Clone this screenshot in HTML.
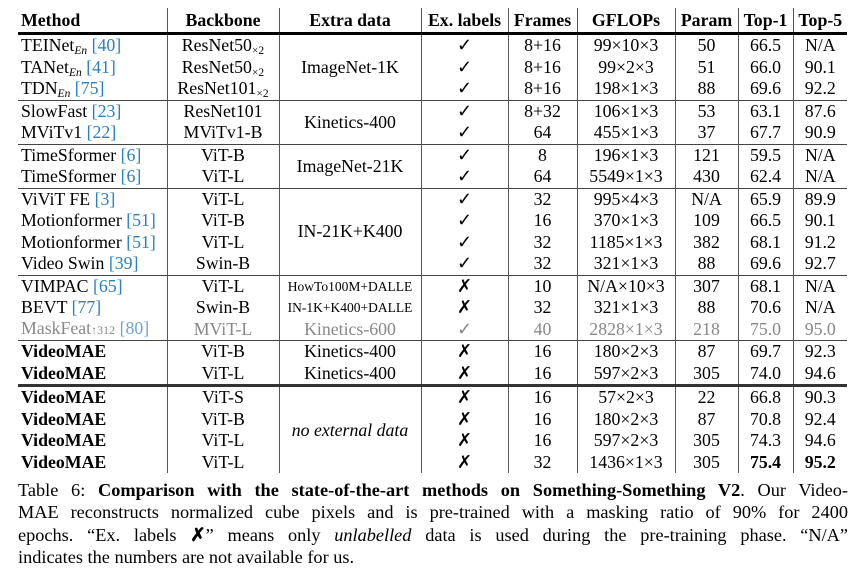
<!DOCTYPE html>
<html><head><meta charset="utf-8"><style>
body{margin:0;background:#fff;width:864px;height:577px;overflow:hidden;font-family:"Liberation Serif",serif;color:#000}
table{position:absolute;left:18px;top:8px;border-collapse:collapse;table-layout:fixed;font-size:17.8px}
td,th{padding:0;text-align:center;height:21.5px;line-height:17px;white-space:nowrap;border-left:1.2px solid #555;overflow:hidden}
td:first-child,th:first-child{border-left:none;text-align:left;padding-left:3px}
th{height:24px;font-weight:bold;border-bottom:3px solid #000}
tr.sep td{border-top:1.2px solid #444}
tr.thick td{border-top:3px solid #333}
.c{color:#2a7fc1}
.g{color:#888}.g .c{color:#6fa3d0}
sub{font-size:11.5px;font-style:italic;vertical-align:-3px;line-height:0}
.sm{font-size:13.5px}
.b{font-weight:bold}
.cap{position:absolute;left:18px;top:479px;width:830px;font-size:18.3px;line-height:22.3px}
.cap div{text-align:justify;text-align-last:justify;white-space:nowrap}
.cap div.l{text-align-last:left}
</style></head><body>
<table>
<colgroup><col style="width:149px"><col style="width:112px"><col style="width:142px"><col style="width:87px"><col style="width:69px"><col style="width:98px"><col style="width:63px"><col style="width:55px"><col style="width:54px"></colgroup>
<tr><th>Method</th><th>Backbone</th><th>Extra data</th><th>Ex. labels</th><th>Frames</th><th>GFLOPs</th><th>Param</th><th>Top-1</th><th>Top-5</th></tr>
<tr><td>TEINet<sub>En</sub> <span class="c">[40]</span></td><td>ResNet50<sub style="font-style:normal">×2</sub></td><td rowspan="3">ImageNet-1K</td><td>✓</td><td>8+16</td><td>99×10×3</td><td>50</td><td>66.5</td><td>N/A</td></tr>
<tr><td>TANet<sub>En</sub> <span class="c">[41]</span></td><td>ResNet50<sub style="font-style:normal">×2</sub></td><td>✓</td><td>8+16</td><td>99×2×3</td><td>51</td><td>66.0</td><td>90.1</td></tr>
<tr><td>TDN<sub>En</sub> <span class="c">[75]</span></td><td>ResNet101<sub style="font-style:normal">×2</sub></td><td>✓</td><td>8+16</td><td>198×1×3</td><td>88</td><td>69.6</td><td>92.2</td></tr>
<tr class="sep"><td>SlowFast <span class="c">[23]</span></td><td>ResNet101</td><td rowspan="2">Kinetics-400</td><td>✓</td><td>8+32</td><td>106×1×3</td><td>53</td><td>63.1</td><td>87.6</td></tr>
<tr><td>MViTv1 <span class="c">[22]</span></td><td>MViTv1-B</td><td>✓</td><td>64</td><td>455×1×3</td><td>37</td><td>67.7</td><td>90.9</td></tr>
<tr class="sep"><td>TimeSformer <span class="c">[6]</span></td><td>ViT-B</td><td rowspan="2">ImageNet-21K</td><td>✓</td><td>8</td><td>196×1×3</td><td>121</td><td>59.5</td><td>N/A</td></tr>
<tr><td>TimeSformer <span class="c">[6]</span></td><td>ViT-L</td><td>✓</td><td>64</td><td>5549×1×3</td><td>430</td><td>62.4</td><td>N/A</td></tr>
<tr class="sep"><td>ViViT FE <span class="c">[3]</span></td><td>ViT-L</td><td rowspan="4">IN-21K+K400</td><td>✓</td><td>32</td><td>995×4×3</td><td>N/A</td><td>65.9</td><td>89.9</td></tr>
<tr><td>Motionformer <span class="c">[51]</span></td><td>ViT-B</td><td>✓</td><td>16</td><td>370×1×3</td><td>109</td><td>66.5</td><td>90.1</td></tr>
<tr><td>Motionformer <span class="c">[51]</span></td><td>ViT-L</td><td>✓</td><td>32</td><td>1185×1×3</td><td>382</td><td>68.1</td><td>91.2</td></tr>
<tr><td>Video Swin <span class="c">[39]</span></td><td>Swin-B</td><td>✓</td><td>32</td><td>321×1×3</td><td>88</td><td>69.6</td><td>92.7</td></tr>
<tr class="sep"><td>VIMPAC <span class="c">[65]</span></td><td>ViT-L</td><td class="sm">HowTo100M+DALLE</td><td>✗</td><td>10</td><td>N/A×10×3</td><td>307</td><td>68.1</td><td>N/A</td></tr>
<tr><td>BEVT <span class="c">[77]</span></td><td>Swin-B</td><td class="sm">IN-1K+K400+DALLE</td><td>✗</td><td>32</td><td>321×1×3</td><td>88</td><td>70.6</td><td>N/A</td></tr>
<tr class="g"><td>MaskFeat<span style="font-size:12px">↑312</span> <span class="c">[80]</span></td><td>MViT-L</td><td>Kinetics-600</td><td>✓</td><td>40</td><td>2828×1×3</td><td>218</td><td>75.0</td><td>95.0</td></tr>
<tr class="sep"><td class="b">VideoMAE</td><td>ViT-B</td><td>Kinetics-400</td><td>✗</td><td>16</td><td>180×2×3</td><td>87</td><td>69.7</td><td>92.3</td></tr>
<tr><td class="b">VideoMAE</td><td>ViT-L</td><td>Kinetics-400</td><td>✗</td><td>16</td><td>597×2×3</td><td>305</td><td>74.0</td><td>94.6</td></tr>
<tr class="thick"><td class="b">VideoMAE</td><td>ViT-S</td><td rowspan="4"><i>no external data</i></td><td>✗</td><td>16</td><td>57×2×3</td><td>22</td><td>66.8</td><td>90.3</td></tr>
<tr><td class="b">VideoMAE</td><td>ViT-B</td><td>✗</td><td>16</td><td>180×2×3</td><td>87</td><td>70.8</td><td>92.4</td></tr>
<tr><td class="b">VideoMAE</td><td>ViT-L</td><td>✗</td><td>16</td><td>597×2×3</td><td>305</td><td>74.3</td><td>94.6</td></tr>
<tr><td class="b">VideoMAE</td><td>ViT-L</td><td>✗</td><td>32</td><td>1436×1×3</td><td>305</td><td class="b">75.4</td><td class="b">95.2</td></tr>
</table>
<div class="cap">
<div>Table 6: <b>Comparison with the state-of-the-art methods on Something-Something V2</b>. Our Video-</div>
<div>MAE reconstructs normalized cube pixels and is pre-trained with a masking ratio of 90% for 2400</div>
<div>epochs. “Ex. labels <b>✗</b>” means only <i>unlabelled</i> data is used during the pre-training phase. “N/A”</div>
<div class="l">indicates the numbers are not available for us.</div>
</div>
</body></html>
